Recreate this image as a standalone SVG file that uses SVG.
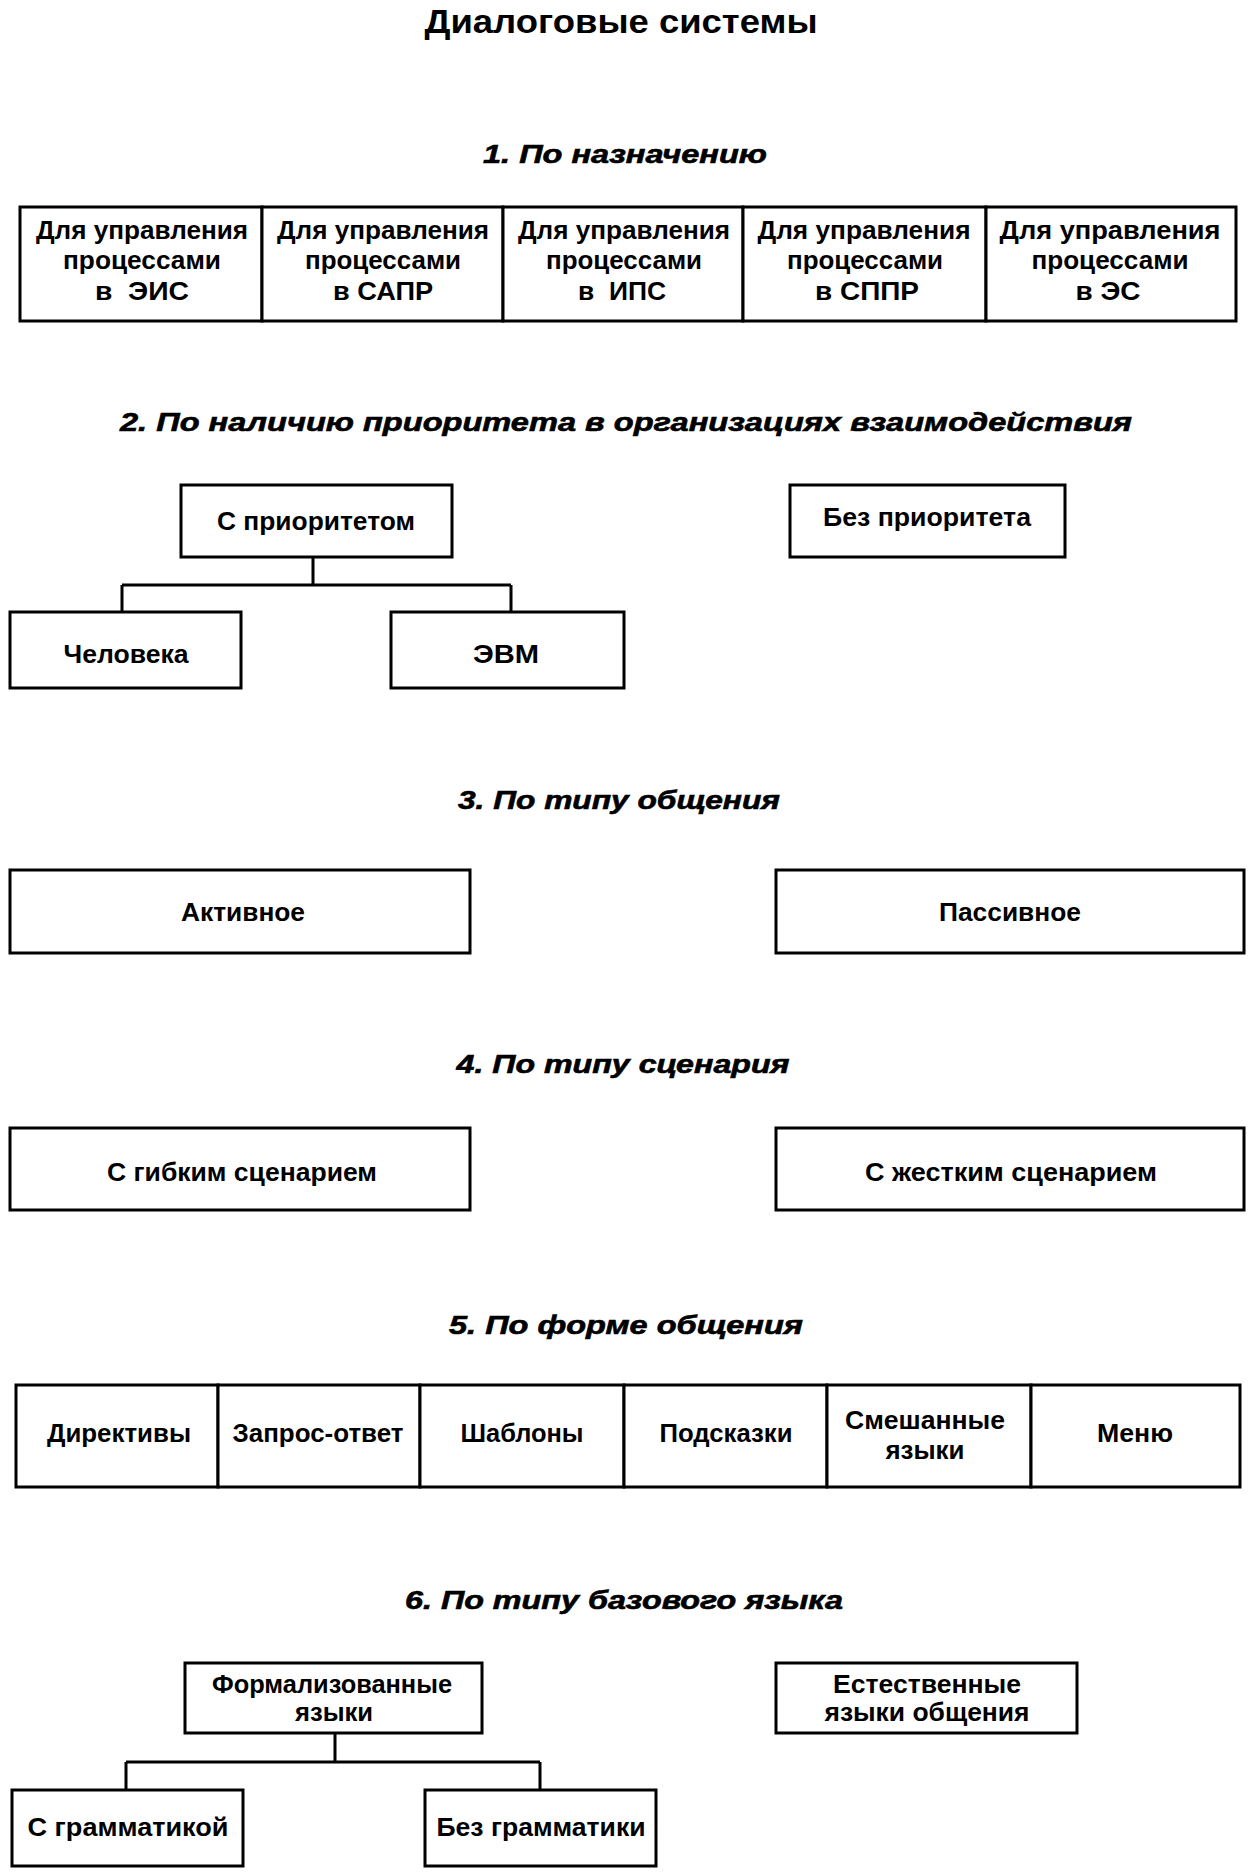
<svg xmlns="http://www.w3.org/2000/svg" width="1252" height="1876" viewBox="0 0 1252 1876">
<style>
.bg{fill:#fff}
.box{fill:#fff;stroke:#000;stroke-width:3}
.con{fill:none;stroke:#000;stroke-width:3}
.t{font-family:"Liberation Sans",Arial,sans-serif;font-size:25px;font-weight:bold;fill:#000;text-anchor:middle}
.h{font-family:"Liberation Sans",Arial,sans-serif;font-size:25px;font-weight:bold;font-style:italic;fill:#000;stroke:#000;stroke-width:0.6;text-anchor:middle}
.title{font-family:"Liberation Sans",Arial,sans-serif;font-size:34px;font-weight:bold;fill:#000;text-anchor:middle}
</style>
<rect class="bg" x="0" y="0" width="1252" height="1876"/>
<text class="title" x="621" y="33" textLength="393" lengthAdjust="spacingAndGlyphs">Диалоговые системы</text>

<text class="h" x="625" y="163" textLength="284" lengthAdjust="spacingAndGlyphs">1. По назначению</text>
<g id="s1-eis"><rect class="box" x="20" y="207" width="242" height="114"/>
<text class="t" x="142" y="239" textLength="212" lengthAdjust="spacingAndGlyphs">Для управления</text>
<text class="t" x="142" y="269" textLength="158" lengthAdjust="spacingAndGlyphs">процессами</text>
<text class="t" x="142" y="300" textLength="94" lengthAdjust="spacingAndGlyphs" xml:space="preserve">в  ЭИС</text></g>
<g id="s1-sapr"><rect class="box" x="262" y="207" width="241" height="114"/>
<text class="t" x="383" y="239" textLength="212" lengthAdjust="spacingAndGlyphs">Для управления</text>
<text class="t" x="383" y="269" textLength="156" lengthAdjust="spacingAndGlyphs">процессами</text>
<text class="t" x="383" y="300" textLength="100" lengthAdjust="spacingAndGlyphs">в САПР</text></g>
<g id="s1-ips"><rect class="box" x="503" y="207" width="240" height="114"/>
<text class="t" x="624" y="239" textLength="212" lengthAdjust="spacingAndGlyphs">Для управления</text>
<text class="t" x="624" y="269" textLength="156" lengthAdjust="spacingAndGlyphs">процессами</text>
<text class="t" x="622" y="300" textLength="88" lengthAdjust="spacingAndGlyphs" xml:space="preserve">в  ИПС</text></g>
<g id="s1-sppr"><rect class="box" x="743" y="207" width="243" height="114"/>
<text class="t" x="864" y="239" textLength="213" lengthAdjust="spacingAndGlyphs">Для управления</text>
<text class="t" x="865" y="269" textLength="156" lengthAdjust="spacingAndGlyphs">процессами</text>
<text class="t" x="867" y="300" textLength="104" lengthAdjust="spacingAndGlyphs">в СППР</text></g>
<g id="s1-es"><rect class="box" x="986" y="207" width="250" height="114"/>
<text class="t" x="1110" y="239" textLength="221" lengthAdjust="spacingAndGlyphs">Для управления</text>
<text class="t" x="1110" y="269" textLength="157" lengthAdjust="spacingAndGlyphs">процессами</text>
<text class="t" x="1108" y="300" textLength="65" lengthAdjust="spacingAndGlyphs">в ЭС</text></g>

<text class="h" x="626" y="431" textLength="1012" lengthAdjust="spacingAndGlyphs">2. По наличию приоритета в организациях взаимодействия</text>
<g id="connectors">
<path class="con" d="M313 557V585M122 585H511M122 585V612M511 585V612"/>
<path class="con" d="M335 1733V1762M126 1762H540M126 1762V1790M540 1762V1790"/>
</g>
<g id="s2-with"><rect class="box" x="181" y="485" width="271" height="72"/>
<text class="t" x="316" y="530" textLength="198" lengthAdjust="spacingAndGlyphs">С приоритетом</text></g>
<g id="s2-without"><rect class="box" x="790" y="485" width="275" height="72"/>
<text class="t" x="927" y="526" textLength="208" lengthAdjust="spacingAndGlyphs">Без приоритета</text></g>
<g id="s2-human"><rect class="box" x="10" y="612" width="231" height="76"/>
<text class="t" x="126" y="663" textLength="125" lengthAdjust="spacingAndGlyphs">Человека</text></g>
<g id="s2-evm"><rect class="box" x="391" y="612" width="233" height="76"/>
<text class="t" x="506" y="663" textLength="66" lengthAdjust="spacingAndGlyphs">ЭВМ</text></g>

<text class="h" x="619" y="809" textLength="322" lengthAdjust="spacingAndGlyphs">3. По типу общения</text>
<g id="s3-active"><rect class="box" x="10" y="870" width="460" height="83"/>
<text class="t" x="243" y="921" textLength="124" lengthAdjust="spacingAndGlyphs">Активное</text></g>
<g id="s3-passive"><rect class="box" x="776" y="870" width="468" height="83"/>
<text class="t" x="1010" y="921" textLength="142" lengthAdjust="spacingAndGlyphs">Пассивное</text></g>

<text class="h" x="623" y="1073" textLength="333" lengthAdjust="spacingAndGlyphs">4. По типу сценария</text>
<g id="s4-flex"><rect class="box" x="10" y="1128" width="460" height="82"/>
<text class="t" x="242" y="1181" textLength="270" lengthAdjust="spacingAndGlyphs">С гибким сценарием</text></g>
<g id="s4-rigid"><rect class="box" x="776" y="1128" width="468" height="82"/>
<text class="t" x="1011" y="1181" textLength="292" lengthAdjust="spacingAndGlyphs">С жестким сценарием</text></g>

<text class="h" x="626" y="1334" textLength="354" lengthAdjust="spacingAndGlyphs">5. По форме общения</text>
<g id="s5-dir"><rect class="box" x="16" y="1385" width="202" height="102"/>
<text class="t" x="119" y="1442" textLength="144" lengthAdjust="spacingAndGlyphs">Директивы</text></g>
<g id="s5-qa"><rect class="box" x="218" y="1385" width="202" height="102"/>
<text class="t" x="318" y="1442" textLength="171" lengthAdjust="spacingAndGlyphs">Запрос-ответ</text></g>
<g id="s5-tpl"><rect class="box" x="420" y="1385" width="204" height="102"/>
<text class="t" x="522" y="1442" textLength="123" lengthAdjust="spacingAndGlyphs">Шаблоны</text></g>
<g id="s5-hint"><rect class="box" x="624" y="1385" width="203" height="102"/>
<text class="t" x="726" y="1442" textLength="133" lengthAdjust="spacingAndGlyphs">Подсказки</text></g>
<g id="s5-mix"><rect class="box" x="827" y="1385" width="204" height="102"/>
<text class="t" x="925" y="1429" textLength="160" lengthAdjust="spacingAndGlyphs">Смешанные</text>
<text class="t" x="925" y="1459" textLength="79" lengthAdjust="spacingAndGlyphs">языки</text></g>
<g id="s5-menu"><rect class="box" x="1031" y="1385" width="209" height="102"/>
<text class="t" x="1135" y="1442" textLength="76" lengthAdjust="spacingAndGlyphs">Меню</text></g>

<text class="h" x="624" y="1609" textLength="438" lengthAdjust="spacingAndGlyphs">6. По типу базового языка</text>
<g id="s6-formal"><rect class="box" x="185" y="1663" width="297" height="70"/>
<text class="t" x="332" y="1693" textLength="240" lengthAdjust="spacingAndGlyphs">Формализованные</text>
<text class="t" x="334" y="1721" textLength="78" lengthAdjust="spacingAndGlyphs">языки</text></g>
<g id="s6-natural"><rect class="box" x="776" y="1663" width="301" height="70"/>
<text class="t" x="927" y="1693" textLength="188" lengthAdjust="spacingAndGlyphs">Естественные</text>
<text class="t" x="927" y="1721" textLength="205" lengthAdjust="spacingAndGlyphs">языки общения</text></g>
<g id="s6-gram"><rect class="box" x="12" y="1790" width="231" height="76"/>
<text class="t" x="128" y="1836" textLength="201" lengthAdjust="spacingAndGlyphs">С грамматикой</text></g>
<g id="s6-nogram"><rect class="box" x="425" y="1790" width="231" height="76"/>
<text class="t" x="541" y="1836" textLength="209" lengthAdjust="spacingAndGlyphs">Без грамматики</text></g>
</svg>
